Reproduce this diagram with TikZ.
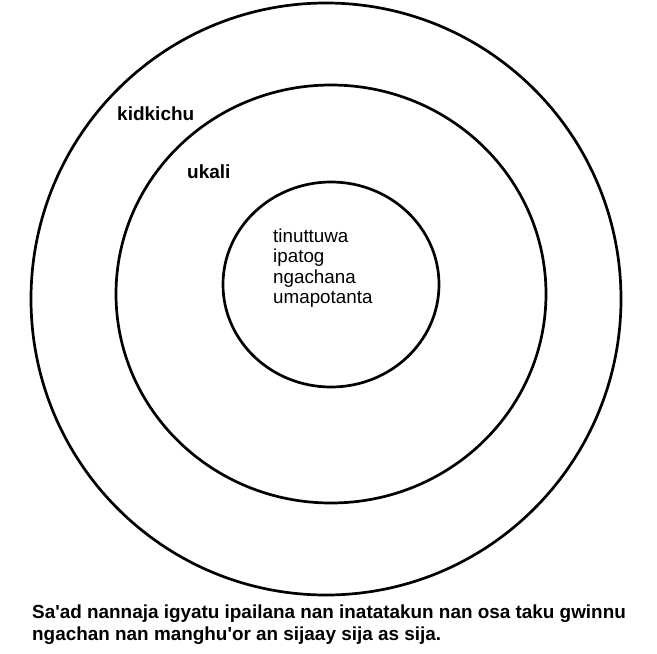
\documentclass[tikz,border=0pt]{standalone}
\usepackage{fontspec}
\setmainfont{Liberation Sans}
\tikzset{
  ring/.style={line width=2.7pt},
  ringlabel/.style={anchor=base west, inner sep=0pt, font=\fontsize{19}{22}\selectfont\bfseries},
  coreword/.style={anchor=base west, inner sep=0pt, font=\fontsize{18.8}{21}\selectfont},
  caption/.style={anchor=base west, inner sep=0pt, font=\fontsize{18.9}{22}\selectfont\bfseries}
}
\begin{document}
\begin{tikzpicture}[x=1pt, y=-1pt]
  \useasboundingbox (0, 0) rectangle (657, 654);

  \draw[ring] (326, 299) ellipse[x radius=295, y radius=296];
  \draw[ring] (331, 294) ellipse[x radius=215, y radius=209];
  \draw[ring] (331, 284.5) ellipse[x radius=108, y radius=102.5];

  \node[ringlabel] (outer) at (117, 120) {kidkichu};
  \node[ringlabel] (middle) at (187, 178) {ukali};

  \foreach \w [count=\i] in {tinuttuwa, ipatog, ngachana, umapotanta}
    \node[coreword] (core\i) at (273, 242 + 20.5*\i - 20.5) {\w};

  \node[caption] (cap1) at (32, 618) {Sa\textquotesingle ad nannaja igyatu ipailana nan inatatakun nan osa taku gwinnu};
  \node[caption] (cap2) at (32, 640) {ngachan nan manghu\textquotesingle or an sijaay sija as sija.};
\end{tikzpicture}
\end{document}
